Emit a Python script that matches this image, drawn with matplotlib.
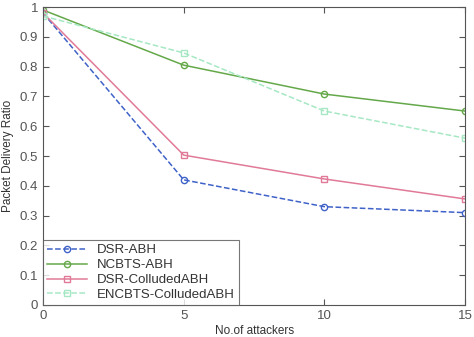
import matplotlib
matplotlib.use("Agg")
import matplotlib.pyplot as plt
from matplotlib.ticker import FuncFormatter

plt.rcParams['font.family'] = ['Liberation Sans', 'DejaVu Sans']

attackers = [0, 5, 10, 15]
dsr_abh = [0.98, 0.42, 0.33, 0.31]
ncbts_abh = [0.99, 0.805, 0.708, 0.651]
dsr_colluded = [0.98, 0.503, 0.423, 0.356]
encbts_colluded = [0.97, 0.846, 0.651, 0.56]

fig = plt.figure(figsize=(4.74, 3.37), dpi=100)
ax = fig.add_axes([0.091, 0.095, 0.890, 0.884])

ax.plot(attackers, dsr_abh, '--o', color='#3f62c8', lw=1.1, ms=4.5, mfc='none', label='DSR-ABH')
ax.plot(attackers, ncbts_abh, '-o', color='#64a84a', lw=1.1, ms=4.5, mfc='none', label='NCBTS-ABH')
ax.plot(attackers, dsr_colluded, '-s', color='#e07a98', lw=1.1, ms=4.5, mfc='none', label='DSR-ColludedABH')
ax.plot(attackers, encbts_colluded, '--s', color='#a6e8c4', lw=1.1, ms=4.5, mfc='none', label='ENCBTS-ColludedABH')

ax.set_xlim(0, 15)
ax.set_ylim(0, 1)
ax.set_xticks([0, 5, 10, 15])
ax.set_yticks([i / 10 for i in range(11)])
ax.yaxis.set_major_formatter(FuncFormatter(lambda v, p: '%g' % round(v, 1)))
ax.tick_params(direction='in', top=True, right=True, labelsize=9.5, colors='#555555', length=4)
for s in ax.spines.values():
    s.set_color('#555555')

ax.set_xlabel('No.of attackers', fontsize=8.5, color='#333333', labelpad=2)
ax.set_ylabel('Packet Delivery Ratio', fontsize=8.5, color='#333333')

leg = ax.legend(loc='lower left', fontsize=9.5, frameon=True, fancybox=False, borderaxespad=0,
                handlelength=3, labelspacing=0.2, borderpad=0.3)
leg.get_frame().set_edgecolor('#555555')
leg.get_frame().set_linewidth(0.8)
for t in leg.get_texts():
    t.set_color('#333333')

fig.savefig('out.png', dpi=100)
